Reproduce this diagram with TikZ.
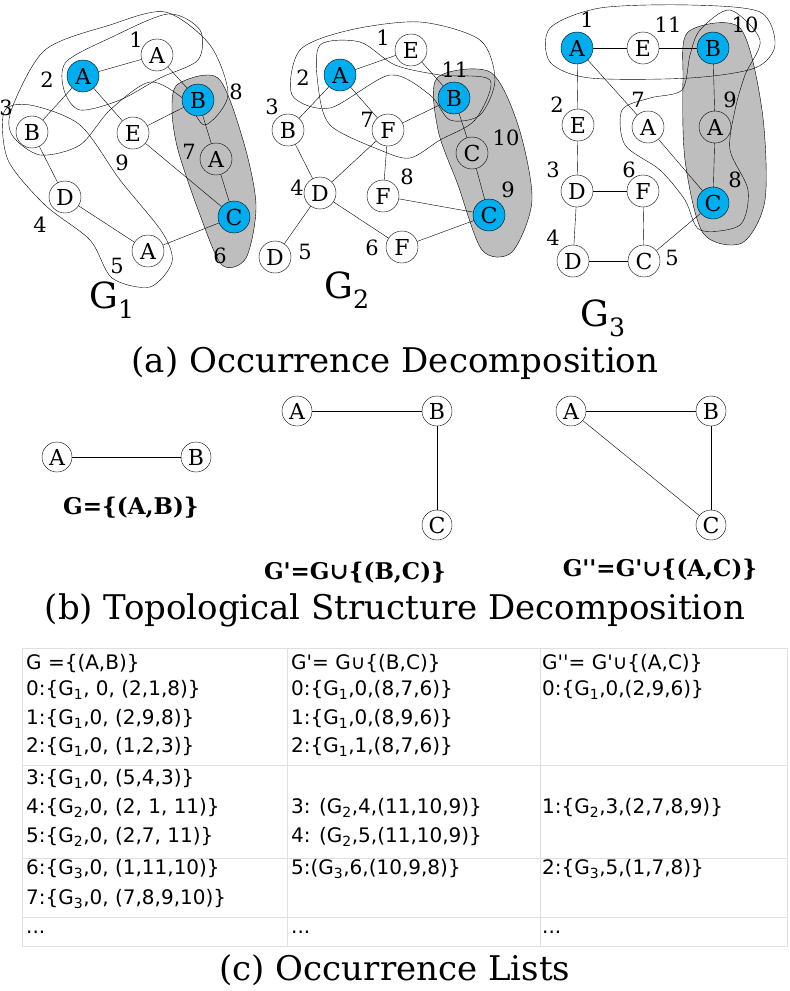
\documentclass[tikz,border=0pt]{standalone}
\usepackage{fontspec}
\setmainfont{DejaVu Serif}
\newfontfamily\tabfont{DejaVu Sans}
\definecolor{hitblue}{RGB}{0,174,239}
\definecolor{blobgray}{RGB}{190,190,190}
\newcommand\pr{\textquotesingle}
\tikzset{
  vtx/.style={circle, draw, fill=white, inner sep=0pt, minimum size=32pt, font=\fontsize{22}{22}\selectfont},
  hit/.style={vtx, fill=hitblue},
  lbl/.style={font=\fontsize{21}{21}\selectfont, inner sep=0pt},
  caption/.style={font=\fontsize{34}{34}\selectfont, inner sep=0pt},
  gname/.style={font=\fontsize{36}{36}\selectfont, inner sep=0pt},
  res/.style={font=\bfseries\fontsize{23}{23}\selectfont, inner sep=0pt},
  row/.style={font=\tabfont\fontsize{20}{20}\selectfont, anchor=west, inner sep=0pt},
  blob/.style={fill=blobgray, draw=black, thin},
  loop/.style={draw=black, thin},
}
\begin{document}
\begin{tikzpicture}[x=1pt,y=-1pt]
	\useasboundingbox[fill=white] (0,0) rectangle (790,991);

	%G1 shaded part and contours
	\path[blob] plot[smooth cycle] coordinates {(178,84) (218,78) (243,140) (256,205) (246,258) (222,265) (200,215) (178,150) (172,110)};
	\path[loop] plot[smooth cycle] coordinates {(66,62) (110,38) (168,14) (200,30) (198,60) (160,78) (120,100) (80,110) (64,90)};
	\path[loop] plot[smooth cycle] coordinates {(12,108) (45,50) (110,25) (165,12) (210,45) (228,95) (205,125) (185,100) (150,82) (110,110) (80,145) (40,155) (12,135)};
	\path[loop] plot[smooth cycle] coordinates {(4,112) (30,105) (80,125) (120,180) (162,232) (172,262) (150,287) (112,278) (90,240) (45,205) (8,160)};

	%G1 vertices
	\node[vtx] (ga1) at (157,55) {A};
	\node[hit] (ga2) at (83,76) {A};
	\node[vtx] (gb3) at (32,132) {B};
	\node[vtx] (ge9) at (133,133) {E};
	\node[hit] (gb8) at (198,100) {B};
	\node[vtx, fill=blobgray] (ga7) at (216,159) {A};
	\node[vtx] (gd4) at (65,197) {D};
	\node[hit] (gc6) at (234,217) {C};
	\node[vtx] (ga5) at (148,251) {A};
	\foreach \u/\v in {ga1/ga2, ga1/gb8, ga2/gb3, ga2/ge9, ge9/gb8, ge9/gc6, gb8/ga7, ga7/gc6, gb3/gd4, gd4/ga5, ga5/gc6}
		\draw (\u) -- (\v);
	\foreach \t/\x/\y in {1/136/40, 2/47/80, 3/6/108, 9/122/163, 7/189/152, 8/236/92, 4/40/225, 5/117/266, 6/220/256}
		\node[lbl] at (\x,\y) {\t};
	\node[gname] (g1) at (112,300) {G\textsubscript{1}};

	%G2 shaded part and contours
	\path[blob] plot[smooth cycle] coordinates {(437,78) (490,72) (518,125) (532,200) (512,252) (482,250) (458,185) (438,130)};
	\path[loop] plot[smooth cycle] coordinates {(300,50) (350,30) (420,22) (480,40) (495,80) (480,115) (450,120) (430,95) (390,75) (330,108) (292,95)};
	\path[loop] plot[smooth cycle] coordinates {(320,45) (360,42) (395,65) (440,75) (490,80) (475,120) (440,140) (410,158) (380,150) (330,125) (318,85)};

	%G2 vertices
	\node[hit] (ha2) at (340,75) {A};
	\node[vtx] (he1) at (411,50) {E};
	\node[vtx] (hb3) at (288,130) {B};
	\node[vtx] (hf7) at (388,130) {F};
	\node[hit] (hb11) at (454,98) {B};
	\node[vtx, fill=blobgray] (hc10) at (472,153) {C};
	\node[vtx] (hd4) at (320,193) {D};
	\node[vtx] (hf8) at (383,196) {F};
	\node[hit] (hc9) at (489,215) {C};
	\node[vtx] (hd5) at (275,257) {D};
	\node[vtx] (hf6) at (402,247) {F};
	\foreach \u/\v in {ha2/he1, he1/hb11, ha2/hb3, ha2/hf7, hf7/hb11, hb11/hc10, hc10/hc9, hb3/hd4, hd4/hf7, hf7/hf8, hf8/hc9, hd4/hd5, hd4/hf6, hf6/hc9}
		\draw (\u) -- (\v);
	\foreach \t/\x/\y in {1/383/38, 2/303/78, 3/272/107, 7/367/120, 11/455/70, 10/506/138, 4/297/188, 8/407/177, 9/508/190, 5/305/252, 6/372/248}
		\node[lbl] at (\x,\y) {\t};
	\node[gname] (g2) at (347,290) {G\textsubscript{2}};

	%G3 shaded part and contours
	\path[blob] plot[smooth cycle] coordinates {(688,32) (740,28) (762,110) (765,200) (742,243) (703,233) (685,160) (683,80)};
	\path[loop] plot[smooth cycle] coordinates {(550,28) (600,8) (690,5) (760,12) (775,45) (755,68) (690,78) (590,78) (550,62)};
	\path[loop] plot[smooth cycle] coordinates {(700,30) (730,10) (760,40) (745,75) (735,110) (730,150) (748,190) (740,225) (700,230) (685,200) (660,170) (625,145) (622,110) (650,98) (682,90) (690,55)};

	%G3 vertices
	\node[hit] (ka1) at (577,48) {A};
	\node[vtx] (ke11) at (643,48) {E};
	\node[hit] (kb10) at (713,48) {B};
	\node[vtx] (ke2) at (578,125) {E};
	\node[vtx] (ka7) at (648,127) {A};
	\node[vtx, fill=blobgray] (ka9) at (715,127) {A};
	\node[vtx] (kd3) at (577,191) {D};
	\node[vtx] (kf6) at (643,191) {F};
	\node[hit] (kc8) at (713,203) {C};
	\node[vtx] (kd4) at (573,261) {D};
	\node[vtx] (kc5) at (644,261) {C};
	\foreach \u/\v in {ka1/ke11, ke11/kb10, ka1/ke2, ka1/ka7, ka7/kc8, ke2/kd3, kd3/kf6, kd3/kd4, kf6/kc5, kd4/kc5, kc5/kc8, kb10/ka9, ka9/kc8}
		\draw (\u) -- (\v);
	\foreach \t/\x/\y in {1/587/20, 11/668/25, 10/745/25, 2/557/105, 7/638/100, 9/730/100, 3/553/170, 6/629/170, 8/735/180, 4/553/238, 5/672/258}
		\node[lbl] at (\x,\y) {\t};
	\node[gname] (g3) at (603,318) {G\textsubscript{3}};

	\node[caption] (capa) at (395,363) {(a) Occurrence Decomposition};

	%topological structures
	\node[vtx, minimum size=30pt] (sa) at (57,457) {A};
	\node[vtx, minimum size=30pt] (sb) at (196,457) {B};
	\draw (sa) -- (sb);
	\node[res] (sg) at (131,508) {G=\{(A,B)\}};

	\node[vtx, minimum size=30pt] (ta) at (297,411) {A};
	\node[vtx, minimum size=30pt] (tb) at (437,411) {B};
	\node[vtx, minimum size=30pt] (tc) at (437,525) {C};
	\draw (ta) -- (tb);
	\draw (tb) -- (tc);
	\node[res] (tg) at (355,573) {G\pr=G∪\{(B,C)\}};

	\node[vtx, minimum size=30pt] (ua) at (571,411) {A};
	\node[vtx, minimum size=30pt] (ub) at (711,411) {B};
	\node[vtx, minimum size=30pt] (uc) at (711,525) {C};
	\draw (ua) -- (ub);
	\draw (ub) -- (uc);
	\draw (uc) -- (ua);
	\node[res] (ug) at (660,570) {G\pr\pr=G\pr∪\{(A,C)\}};

	\node[caption] (capb) at (395,610) {(b) Topological Structure Decomposition};

	%occurrence lists
	\draw[black!12] (22,648) rectangle (787,946);
	\foreach \y in {765,858,917}
		\draw[black!12] (22,\y) -- (787,\y);
	\foreach \x in {287,540}
		\draw[black!12] (\x,648) -- (\x,946);
	\foreach \t/\y in {{G =\{(A,B)\}}/664, {0:\{G\textsubscript{1}, 0, (2,1,8)\}}/690, {1:\{G\textsubscript{1},0, (2,9,8)\}}/719, {2:\{G\textsubscript{1},0, (1,2,3)\}}/747, {3:\{G\textsubscript{1},0, (5,4,3)\}}/779, {4:\{G\textsubscript{2},0, (2, 1, 11)\}}/808, {5:\{G\textsubscript{2},0, (2,7, 11)\}}/837, {6:\{G\textsubscript{3},0, (1,11,10)\}}/869, {7:\{G\textsubscript{3},0, (7,8,9,10)\}}/899, {...}/932}
		\node[row] at (26,\y) {\t};
	\foreach \t/\y in {{G\pr= G∪\{(B,C)\}}/664, {0:\{G\textsubscript{1},0,(8,7,6)\}}/690, {1:\{G\textsubscript{1},0,(8,9,6)\}}/719, {2:\{G\textsubscript{1},1,(8,7,6)\}}/747, {3: (G\textsubscript{2},4,(11,10,9)\}}/808, {4: (G\textsubscript{2},5,(11,10,9)\}}/837, {5:(G\textsubscript{3},6,(10,9,8)\}}/869, {...}/932}
		\node[row] at (291,\y) {\t};
	\foreach \t/\y in {{G\pr\pr= G\pr∪\{(A,C)\}}/664, {0:\{G\textsubscript{1},0,(2,9,6)\}}/690, {1:\{G\textsubscript{2},3,(2,7,8,9)\}}/808, {2:\{G\textsubscript{3},5,(1,7,8)\}}/869, {...}/932}
		\node[row] at (542,\y) {\t};

	\node[caption] (capc) at (395,970) {(c) Occurrence Lists};
\end{tikzpicture}
\end{document}
